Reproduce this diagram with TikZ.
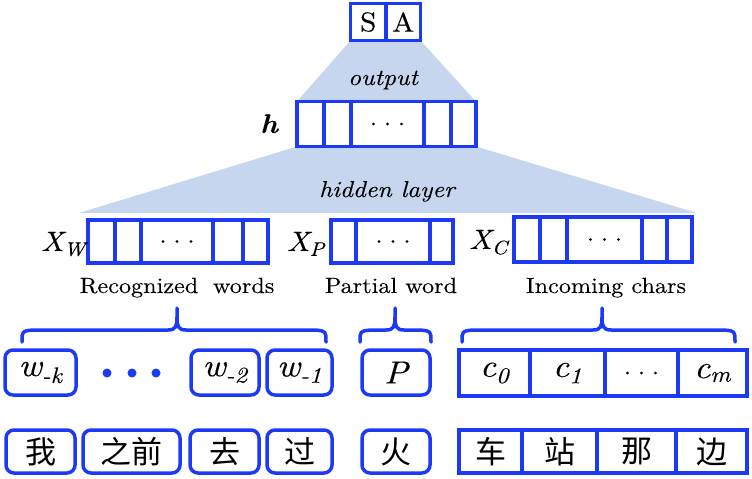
\documentclass[tikz,border=0pt]{standalone}
\usepackage{fontspec}
\setmainfont{lmroman10-regular.otf}[FakeStretch=1.1, FakeBold=0.15, ItalicFont=lmroman10-italic.otf, BoldFont=lmroman10-bold.otf, BoldItalicFont=lmroman10-bolditalic.otf]
\newfontfamily\cjkfont{Noto Sans CJK SC}
\usetikzlibrary{backgrounds}
\definecolor{nnblue}{RGB}{28,58,245}
\definecolor{nnfill}{RGB}{198,214,238}
\newcommand\mkcell[7][cell]{\node[#1, minimum width={#4-#3}, minimum height={#6-#5}] (#2) at ({(#3+#4)/2},{(#5+#6)/2}) {#7};}
\newcommand\mkbrace[3]{\draw[bracel] (#1,342) .. controls (#1,331) .. ({#1+11},330) -- ({#3-9},330) .. controls ({#3-1},330) and (#3,326) .. (#3,317) -- (#3,308) -- (#3,317) .. controls (#3,326) and ({#3+1},330) .. ({#3+9},330) -- ({#2-11},330) .. controls (#2,331) .. (#2,342);}
\newcommand\sub[1]{\textsubscript{#1}}
\newcommand\tdots{.\kern0.28em.\kern0.28em.}
\begin{document}
\begin{tikzpicture}[x=1pt,y=-1pt,
  cell/.style={draw=nnblue, line width=3.5pt, inner sep=0pt, outer sep=0pt},
  rcell/.style={cell, rounded corners=8pt},
  sa/.style={font=\fontsize{27}{30}\selectfont},
  dotsf/.style={font=\fontsize{24}{26}\selectfont},
  mth/.style={font=\itshape\fontsize{32}{34}\selectfont},
  zh/.style={font=\cjkfont\fontsize{31}{34}\selectfont},
  lbl/.style={font=\fontsize{22}{26}\selectfont, inner sep=0pt},
  ilbl/.style={font=\itshape\fontsize{23}{26}\selectfont, inner sep=0pt},
  xlbl/.style={font=\itshape\fontsize{28}{30}\selectfont, inner sep=0pt, anchor=base east},
  bracel/.style={draw=nnblue, line width=3.5pt, line cap=round, line join=round},
  dotn/.style={circle, fill=nnblue, minimum size=9pt, inner sep=0pt}]
\useasboundingbox (0,0) rectangle (752,479);
% output
\mkcell[cell,sa]{S}{350.5}{386}{3.5}{40.5}{S}
\mkcell[cell,sa]{A}{386}{420.5}{3.5}{40.5}{A}
% h
\mkcell{h1}{297}{324}{101.5}{146.5}{}
\mkcell{h2}{324}{351}{101.5}{146.5}{}
\mkcell[cell,dotsf]{h3}{351}{424}{101.5}{146.5}{\tdots}
\mkcell{h4}{424}{451}{101.5}{146.5}{}
\mkcell{h5}{451}{476}{101.5}{146.5}{}
\node[xlbl, font=\bfseries\itshape\fontsize{27}{28}\selectfont] (hl) at (278,133) {h};
% X_W
\mkcell{xw1}{88}{115}{220}{263}{}
\mkcell{xw2}{115}{141}{220}{263}{}
\mkcell[cell,dotsf]{xw3}{141}{213}{220}{263}{\tdots}
\mkcell{xw4}{213}{243}{220}{263}{}
\mkcell{xw5}{243}{268}{220}{263}{}
% X_P
\mkcell{xp1}{331}{356}{220}{263}{}
\mkcell[cell,dotsf]{xp2}{356}{430}{220}{263}{\tdots}
\mkcell{xp3}{430}{453}{220}{263}{}
% X_C
\mkcell{xc1}{514}{540}{217}{262}{}
\mkcell{xc2}{540}{567}{217}{262}{}
\mkcell[cell,dotsf]{xc3}{567}{642}{217}{262}{\tdots}
\mkcell{xc4}{642}{667}{217}{262}{}
\mkcell{xc5}{667}{692}{217}{262}{}
\node[xlbl] (XW) at (86,251) {X\sub{W}};
\node[xlbl] (XP) at (325,251) {X\sub{P}};
\node[xlbl] (XC) at (508,249) {X\sub{C}};
% trapezoids
\coordinate (hidL) at (79,213);
\coordinate (hidR) at (697,213);
\begin{scope}[on background layer]
\fill[nnfill] (S.south west) -- (A.south east) -- (h5.north east) -- (h1.north west) -- cycle;
\fill[nnfill] (h1.south west) -- (h5.south east) -- (hidR) -- (hidL) -- cycle;
\end{scope}
\node[ilbl, anchor=base] (outl) at (383,85) {output};
\node[ilbl, anchor=base] (hidl) at (387,197) {hidden layer};
% group labels
\node[lbl, anchor=base] (rw) at (177,293) {Recognized\hspace{0.3em} words};
\node[lbl, anchor=base] (pw) at (391,293) {Partial word};
\node[lbl, anchor=base] (ic) at (606,293) {Incoming chars};
% braces
\mkbrace{22}{326}{177}
\mkbrace{360}{431}{395}
\mkbrace{462}{735}{602}
% word row
\mkcell[rcell,mth]{wk}{5}{76}{350}{395}{w\sub{-k}}
\node[dotn] (d1) at (107,373) {};
\node[dotn] (d2) at (132,373) {};
\node[dotn] (d3) at (156,373) {};
\mkcell[rcell,mth]{w2}{191}{259}{350}{395}{w\sub{-2}}
\mkcell[rcell,mth]{w1}{267}{332}{350}{395}{w\sub{-1}}
\mkcell[rcell,mth]{pp}{362}{430}{350}{395}{P}
\mkcell[cell,mth]{c0}{459}{530}{350}{396}{c\sub{0}}
\mkcell[cell,mth]{c1}{530}{605}{350}{396}{c\sub{1}}
\mkcell[cell,dotsf]{c2}{605}{678}{350}{396}{\tdots}
\mkcell[cell,mth]{cm}{678}{747}{350}{396}{c\sub{m}}
% chinese row
\mkcell[rcell,zh]{z1}{6}{75}{430}{473}{我}
\mkcell[rcell,zh]{z2}{83}{180}{430}{473}{之前}
\mkcell[rcell,zh]{z3}{190}{259}{430}{473}{去}
\mkcell[rcell,zh]{z4}{267}{332}{430}{473}{过}
\mkcell[rcell,zh]{z5}{362}{430}{430}{473}{火}
\mkcell[cell,zh]{z6}{459}{522}{430}{473}{车}
\mkcell[cell,zh]{z7}{522}{597}{430}{473}{站}
\mkcell[cell,zh]{z8}{597}{676}{430}{473}{那}
\mkcell[cell,zh]{z9}{676}{747}{430}{473}{边}
\end{tikzpicture}
\end{document}
